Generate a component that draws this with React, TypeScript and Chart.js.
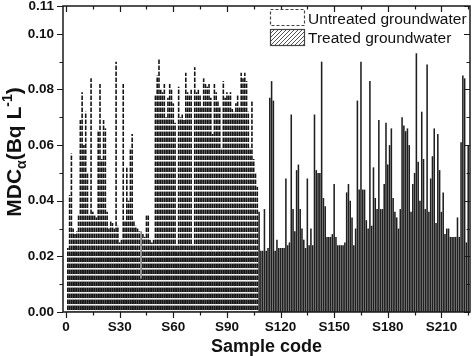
import React, { useEffect, useRef } from 'react';
import { Chart, registerables } from 'chart.js';

Chart.register(...registerables);

// Untreated groundwater, samples 1..107
const untreatedValues: number[] = [
  0.023, 0.042, 0.057, 0.030, 0.028, 0.029, 0.035, 0.069, 0.079, 0.060,
  0.072, 0.050, 0.035, 0.084, 0.036, 0.035, 0.034, 0.065, 0.082, 0.055,
  0.069, 0.066, 0.036, 0.030, 0.033, 0.032, 0.030, 0.090, 0.031, 0.025,
  0.026, 0.082, 0.033, 0.052, 0.040, 0.059, 0.064, 0.033, 0.031, 0.030,
  0.029, 0.012, 0.028, 0.027, 0.035, 0.035, 0.026, 0.025, 0.026, 0.078,
  0.085, 0.091, 0.080, 0.079, 0.082, 0.070, 0.077, 0.082, 0.080, 0.075,
  0.068, 0.024, 0.081, 0.070, 0.071, 0.069, 0.086, 0.079, 0.078, 0.080,
  0.024, 0.088, 0.079, 0.080, 0.078, 0.074, 0.084, 0.082, 0.081, 0.082,
  0.077, 0.064, 0.082, 0.079, 0.076, 0.074, 0.059, 0.083, 0.077, 0.079,
  0.078, 0.079, 0.073, 0.072, 0.075, 0.078, 0.074, 0.086, 0.084, 0.086,
  0.083, 0.072, 0.059, 0.076, 0.055, 0.050, 0.045,
];

// Treated groundwater, samples 1..225
const treatedValues: number[] = [
  0.022, 0.023, 0.021, 0.022, 0.024, 0.022, 0.023, 0.021, 0.022, 0.023,
  0.022, 0.021, 0.023, 0.022, 0.024, 0.022, 0.021, 0.023, 0.022, 0.022,
  0.023, 0.022, 0.021, 0.022, 0.023, 0.022, 0.024, 0.022, 0.021, 0.022,
  0.023, 0.022, 0.022, 0.021, 0.023, 0.022, 0.024, 0.022, 0.023, 0.022,
  0.022, 0.029, 0.022, 0.021, 0.023, 0.022, 0.022, 0.021, 0.023, 0.022,
  0.022, 0.023, 0.021, 0.022, 0.024, 0.022, 0.023, 0.021, 0.022, 0.023,
  0.022, 0.021, 0.023, 0.022, 0.024, 0.022, 0.021, 0.023, 0.022, 0.022,
  0.021, 0.022, 0.021, 0.022, 0.023, 0.022, 0.024, 0.022, 0.021, 0.022,
  0.023, 0.022, 0.022, 0.021, 0.023, 0.022, 0.024, 0.022, 0.023, 0.022,
  0.022, 0.023, 0.022, 0.021, 0.023, 0.022, 0.022, 0.021, 0.023, 0.022,
  0.022, 0.023, 0.021, 0.022, 0.024, 0.022, 0.023,
  // samples 108..225
  0.036, 0.022, 0.022, 0.037, 0.022, 0.023, 0.077, 0.083, 0.076, 0.022,
  0.026, 0.023, 0.023, 0.023, 0.023, 0.048, 0.024, 0.025, 0.071, 0.037,
  0.029, 0.051, 0.053, 0.037, 0.030, 0.026, 0.023, 0.048, 0.024, 0.030,
  0.024, 0.071, 0.051, 0.050, 0.050, 0.090, 0.041, 0.038, 0.027, 0.027,
  0.027, 0.028, 0.046, 0.027, 0.024, 0.024, 0.024, 0.024, 0.025, 0.043,
  0.046, 0.040, 0.034, 0.024, 0.030, 0.076, 0.044, 0.090, 0.044, 0.044,
  0.033, 0.030, 0.083, 0.031, 0.052, 0.041, 0.037, 0.069, 0.037, 0.037,
  0.046, 0.068, 0.053, 0.060, 0.066, 0.041, 0.036, 0.034, 0.030, 0.037,
  0.070, 0.067, 0.065, 0.066, 0.060, 0.036, 0.046, 0.050, 0.093, 0.054,
  0.040, 0.072, 0.055, 0.037, 0.089, 0.036, 0.048, 0.056, 0.066, 0.032,
  0.064, 0.051, 0.036, 0.043, 0.028, 0.030, 0.030, 0.027, 0.027, 0.027,
  0.027, 0.034, 0.027, 0.061, 0.085, 0.084, 0.025, 0.060,
];

const untreatedSamples: number[] = untreatedValues.map((_, i) => i + 1);
const treatedSamples: number[] = treatedValues.map((_, i) => i + 1);
const UNTREATED_COUNT = untreatedValues.length;

const xTickLabels: Record<number, string> = {
  0: '0', 30: 'S30', 60: 'S60', 90: 'S90', 120: 'S120', 150: 'S150', 180: 'S180', 210: 'S210',
};
const legendLabels = ['Untreated groundwater', 'Treated groundwater'];
const xTitle = 'Sample code';

const FONT = '"Liberation Sans", Arial, Helvetica, sans-serif';

function makeDashPattern(): CanvasPattern | string {
  const c = document.createElement('canvas');
  c.width = 2;
  c.height = 6;
  const g = c.getContext('2d');
  if (!g) return '#555';
  g.fillStyle = '#ffffff';
  g.fillRect(0, 0, 2, 6);
  g.fillStyle = '#151515';
  g.fillRect(0, 0, 2, 4);
  g.fillStyle = '#9a9a9a';
  g.fillRect(0, 5, 2, 1);
  return g.createPattern(c, 'repeat') || '#555';
}

const framePlugin = {
  id: 'frameAndLegend',
  afterDraw(chart: any) {
    const ctx: CanvasRenderingContext2D = chart.ctx;
    const { left, right, top, bottom } = chart.chartArea;
    const xs = chart.scales.x;
    const ys = chart.scales.y;
    ctx.save();
    // ticks
    ctx.strokeStyle = '#1a1a1a';
    ctx.lineWidth = 1.2;
    ctx.beginPath();
    xs.ticks.forEach((t: any) => {
      const v = Math.round(t.value);
      if (v % 15 !== 0) return;
      const px = Math.round(xs.getPixelForValue(v)) + 0.5;
      const len = v % 30 === 0 ? 6 : 3.5;
      ctx.moveTo(px, bottom);
      ctx.lineTo(px, bottom + len);
      ctx.moveTo(px, top);
      ctx.lineTo(px, top + len);
    });
    ys.ticks.forEach((t: any) => {
      const n = Math.round(t.value * 100);
      const py = Math.round(ys.getPixelForValue(t.value)) + 0.5;
      const len = n % 2 === 0 || n === 11 ? 6 : 3.5;
      ctx.moveTo(left, py);
      ctx.lineTo(left - len, py);
      ctx.moveTo(right, py);
      ctx.lineTo(right - len, py);
    });
    ctx.stroke();
    // frame
    ctx.lineWidth = 1.5;
    ctx.strokeRect(left, top, right - left, bottom - top);

    // legend
    const sx = 270.5;
    const sw = 34;
    const sh = 16;
    const y1 = 9.5;
    const y2 = 29.5;
    ctx.fillStyle = '#ffffff';
    ctx.fillRect(sx, y1, sw, sh);
    ctx.setLineDash([3, 2]);
    ctx.strokeStyle = '#444';
    ctx.lineWidth = 1.2;
    ctx.strokeRect(sx, y1, sw, sh);
    ctx.setLineDash([]);
    ctx.fillRect(sx, y2, sw, sh);
    ctx.save();
    ctx.beginPath();
    ctx.rect(sx, y2, sw, sh);
    ctx.clip();
    ctx.strokeStyle = '#555';
    ctx.lineWidth = 1;
    ctx.beginPath();
    for (let k = -sh; k < sw + sh; k += 4) {
      ctx.moveTo(sx + k, y2 + sh);
      ctx.lineTo(sx + k + sh, y2);
    }
    ctx.stroke();
    ctx.restore();
    ctx.strokeStyle = '#444';
    ctx.lineWidth = 1.2;
    ctx.strokeRect(sx, y2, sw, sh);

    ctx.fillStyle = '#111';
    ctx.font = `15.5px ${FONT}`;
    ctx.textBaseline = 'alphabetic';
    ctx.textAlign = 'left';
    ctx.fillText(legendLabels[0], 308, 23.5);
    ctx.fillText(legendLabels[1], 308, 42.5);

    // y axis title with subscript and superscript
    const big = `bold 21px ${FONT}`;
    const small = `bold 14px ${FONT}`;
    const pieces = [
      { t: 'MDC', f: big, dy: 0 },
      { t: '\u03B1', f: small, dy: 5 },
      { t: '(Bq L', f: big, dy: 0 },
      { t: '-1', f: small, dy: -9 },
      { t: ')', f: big, dy: 0 },
    ];
    let total = 0;
    const widths = pieces.map((p) => {
      ctx.font = p.f;
      const w = ctx.measureText(p.t).width;
      total += w;
      return w;
    });
    ctx.translate(21, 152);
    ctx.rotate(-Math.PI / 2);
    let x = -total / 2;
    pieces.forEach((p, i) => {
      ctx.font = p.f;
      ctx.fillText(p.t, x, p.dy);
      x += widths[i];
    });
    ctx.restore();
  },
};

export default function App() {
  const ref = useRef<HTMLCanvasElement>(null);
  useEffect(() => {
    const canvas = ref.current;
    if (!canvas) return;
    const pattern = makeDashPattern();
    const chart = new Chart(canvas, {
      type: 'bar',
      data: {
        datasets: [
          {
            label: legendLabels[0],
            data: untreatedSamples.map((s, i) => ({ x: s, y: untreatedValues[i] })),
            backgroundColor: pattern as any,
            borderWidth: 0,
            barPercentage: 1,
            categoryPercentage: 0.9,
            grouped: false,
          } as any,
          {
            label: legendLabels[1],
            data: treatedSamples.map((s, i) => ({ x: s, y: treatedValues[i] })),
            backgroundColor: treatedSamples.map((s) => (s <= UNTREATED_COUNT ? '#808080' : '#1f1f1f')),
            borderWidth: 0,
            barPercentage: 1,
            categoryPercentage: 0.87,
            grouped: false,
          } as any,
        ],
      },
      options: {
        animation: false,
        responsive: true,
        maintainAspectRatio: false,
        devicePixelRatio: 1,
        events: [],
        layout: { padding: { top: 6, right: 4, left: 0, bottom: 0 } },
        plugins: {
          legend: { display: false },
          tooltip: { enabled: false },
          title: { display: false },
        },
        scales: {
          x: {
            type: 'linear',
            min: -1.7,
            max: 226,
            offset: false,
            grid: { display: false, drawTicks: false },
            border: { display: false },
            ticks: {
              stepSize: 15,
              autoSkip: false,
              includeBounds: false,
              maxRotation: 0,
              padding: 7,
              color: '#111',
              font: { family: FONT, size: 13.5, weight: 'bold' },
              callback: (value: any) => {
                const v = Math.round(Number(value));
                return xTickLabels[v] ?? '';
              },
            },
            title: {
              display: true,
              text: xTitle,
              color: '#111',
              font: { family: FONT, size: 18, weight: 'bold', lineHeight: 1 },
              padding: { top: 0, bottom: 0 },
            },
            afterFit: (scale: any) => {
              scale.height = 44;
              scale.paddingLeft = 0;
              scale.paddingRight = 0;
            },
          } as any,
          y: {
            type: 'linear',
            min: 0,
            max: 0.11,
            grid: { display: false, drawTicks: false },
            border: { display: false },
            ticks: {
              stepSize: 0.01,
              autoSkip: false,
              padding: 9,
              color: '#111',
              font: { family: FONT, size: 13.5, weight: 'bold' },
              callback: (value: any) => {
                const n = Math.round(Number(value) * 100);
                return n % 2 === 0 || n === 11 ? (n / 100).toFixed(2) : '';
              },
            },
            afterFit: (scale: any) => {
              scale.width = 63;
              scale.paddingTop = 0;
              scale.paddingBottom = 0;
            },
          } as any,
        },
      },
      plugins: [framePlugin],
    });
    return () => chart.destroy();
  }, []);
  return (
    <div style={{ position: 'fixed', left: 0, top: 0, width: 474, height: 356, background: '#fff' }}>
      <canvas ref={ref} />
    </div>
  );
}
